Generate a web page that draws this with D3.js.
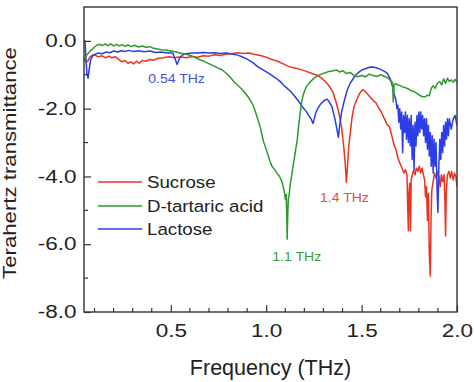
<!DOCTYPE html>
<html><head><meta charset="utf-8">
<script src="https://cdn.jsdelivr.net/npm/d3@7"></script>
<style>body{margin:0;background:#fff}svg{display:block}</style>
</head><body>
<svg id="c" width="474" height="382"></svg>
<script>
const xTicks = [0.5, 1.0, 1.5, 2.0];
const xMinorTicks = [0.1, 0.2, 0.3, 0.4, 0.6, 0.7, 0.8, 0.9, 1.1, 1.2, 1.3, 1.4, 1.6, 1.7, 1.8, 1.9];
const yTicks = [0, -2, -4, -6, -8];
const yMinorTicks = [-1, -3, -5, -7];
const seriesNames = ["Sucrose", "D-tartaric acid", "Lactose"];
const peakLabels = ["0.54 THz", "1.4 THz", "1.1 THz"];
const peakLabelFreq = [0.53, 1.41, 1.16];
const peakLabelVal = [-1.12, -4.62, -6.35];

const sucrose = [[0.045,-0.50],[0.055,-0.62],[0.065,-0.60],[0.075,-0.48],[0.09,-0.42],[0.103,-0.42],[0.12,-0.47],[0.14,-0.44],[0.16,-0.50],[0.175,-0.45],[0.19,-0.50],[0.21,-0.47],[0.23,-0.56],[0.245,-0.62],[0.26,-0.58],[0.275,-0.66],[0.29,-0.62],[0.305,-0.68],[0.32,-0.60],[0.335,-0.66],[0.35,-0.58],[0.37,-0.60],[0.39,-0.55],[0.41,-0.57],[0.43,-0.52],[0.46,-0.50],[0.49,-0.47],[0.52,-0.50],[0.55,-0.47],[0.58,-0.50],[0.61,-0.46],[0.64,-0.48],[0.67,-0.44],[0.70,-0.45],[0.73,-0.41],[0.76,-0.43],[0.79,-0.39],[0.82,-0.38],[0.85,-0.35],[0.88,-0.37],[0.91,-0.36],[0.94,-0.40],[0.97,-0.43],[1.00,-0.48],[1.03,-0.55],[1.06,-0.60],[1.09,-0.68],[1.12,-0.76],[1.15,-0.80],[1.18,-0.84],[1.21,-0.90],[1.24,-0.96],[1.27,-1.02],[1.29,-1.10],[1.31,-1.20],[1.33,-1.33],[1.35,-1.52],[1.365,-1.78],[1.38,-2.10],[1.395,-2.55],[1.405,-3.05],[1.414,-3.6],[1.420,-4.18],[1.426,-3.7],[1.433,-3.1],[1.441,-2.71],[1.45,-2.25],[1.46,-1.95],[1.477,-1.70],[1.49,-1.55],[1.504,-1.44],[1.515,-1.47],[1.53,-1.56],[1.545,-1.66],[1.56,-1.76],[1.575,-1.82],[1.59,-1.98],[1.605,-2.12],[1.62,-2.3],[1.635,-2.48],[1.645,-2.52],[1.655,-2.72],[1.665,-2.95],[1.672,-3.1],[1.68,-3.2],[1.69,-3.45],[1.70,-3.6],[1.708,-3.7],[1.715,-3.8],[1.722,-3.9],[1.73,-3.8],[1.738,-3.95],[1.742,-5.0],[1.745,-5.6],[1.748,-4.5],[1.752,-4.2],[1.756,-5.6],[1.760,-4.1],[1.766,-3.95],[1.772,-3.82],[1.78,-3.95],[1.787,-3.75],[1.795,-3.85],[1.802,-3.7],[1.81,-3.9],[1.817,-3.75],[1.824,-3.95],[1.83,-4.1],[1.835,-4.6],[1.84,-4.3],[1.845,-5.3],[1.85,-4.5],[1.855,-6.3],[1.860,-6.94],[1.864,-5.2],[1.868,-4.4],[1.875,-4.15],[1.882,-3.9],[1.89,-4.05],[1.897,-3.85],[1.905,-4.0],[1.912,-4.3],[1.918,-3.95],[1.925,-4.15],[1.932,-3.95],[1.937,-4.8],[1.940,-5.76],[1.944,-4.4],[1.95,-3.95],[1.958,-3.85],[1.965,-4.05],[1.972,-3.85],[1.98,-4.1],[1.987,-3.9],[1.994,-4.0],[2.0,-4.3]];

const tartaric = [[0.045,-0.56],[0.055,-0.45],[0.065,-0.38],[0.08,-0.28],[0.09,-0.24],[0.10,-0.18],[0.115,-0.12],[0.13,-0.10],[0.14,-0.14],[0.155,-0.09],[0.17,-0.14],[0.185,-0.09],[0.20,-0.15],[0.215,-0.10],[0.23,-0.15],[0.245,-0.11],[0.26,-0.16],[0.275,-0.12],[0.29,-0.17],[0.31,-0.13],[0.33,-0.18],[0.35,-0.15],[0.37,-0.19],[0.39,-0.17],[0.41,-0.22],[0.43,-0.24],[0.45,-0.26],[0.47,-0.27],[0.50,-0.30],[0.53,-0.33],[0.56,-0.37],[0.59,-0.41],[0.62,-0.47],[0.65,-0.55],[0.68,-0.62],[0.71,-0.70],[0.74,-0.78],[0.77,-0.86],[0.80,-1.0],[0.83,-1.2],[0.855,-1.33],[0.88,-1.47],[0.905,-1.65],[0.93,-1.88],[0.95,-2.2],[0.968,-2.53],[0.985,-2.95],[1.005,-3.29],[1.02,-3.55],[1.031,-3.71],[1.045,-3.80],[1.058,-3.91],[1.07,-4.0],[1.084,-4.18],[1.095,-4.44],[1.10,-4.68],[1.105,-4.53],[1.108,-5.2],[1.110,-5.85],[1.113,-5.1],[1.116,-4.68],[1.12,-4.55],[1.126,-4.24],[1.134,-3.95],[1.142,-3.65],[1.152,-3.3],[1.163,-2.91],[1.17,-2.5],[1.178,-2.12],[1.186,-1.8],[1.194,-1.59],[1.21,-1.35],[1.231,-1.21],[1.25,-1.1],[1.27,-1.03],[1.29,-0.98],[1.31,-0.94],[1.33,-0.90],[1.35,-0.88],[1.37,-0.86],[1.385,-0.92],[1.40,-0.88],[1.42,-0.96],[1.44,-0.93],[1.46,-1.02],[1.48,-1.06],[1.50,-1.02],[1.52,-1.06],[1.54,-0.98],[1.56,-1.02],[1.58,-1.05],[1.60,-1.0],[1.62,-1.05],[1.64,-1.1],[1.655,-1.2],[1.662,-1.22],[1.666,-1.8],[1.670,-1.3],[1.68,-1.26],[1.69,-1.3],[1.703,-1.32],[1.715,-1.36],[1.73,-1.38],[1.745,-1.42],[1.76,-1.47],[1.775,-1.5],[1.79,-1.55],[1.808,-1.62],[1.82,-1.65],[1.834,-1.65],[1.845,-1.6],[1.855,-1.62],[1.865,-1.4],[1.875,-1.32],[1.885,-1.4],[1.897,-1.25],[1.91,-1.2],[1.92,-1.3],[1.93,-1.12],[1.94,-1.25],[1.95,-1.1],[1.96,-1.2],[1.97,-1.15],[1.98,-1.22],[1.99,-1.14],[2.0,-1.22]];

const lactose = [[0.045,-0.05],[0.05,0.0],[0.055,-0.5],[0.06,-0.95],[0.066,-1.1],[0.072,-0.85],[0.08,-0.55],[0.09,-0.45],[0.10,-0.40],[0.12,-0.36],[0.14,-0.38],[0.16,-0.33],[0.18,-0.35],[0.20,-0.30],[0.22,-0.33],[0.24,-0.29],[0.26,-0.31],[0.28,-0.28],[0.30,-0.31],[0.33,-0.29],[0.36,-0.32],[0.39,-0.30],[0.42,-0.34],[0.45,-0.33],[0.48,-0.36],[0.51,-0.36],[0.52,-0.50],[0.533,-0.70],[0.545,-0.52],[0.56,-0.42],[0.58,-0.38],[0.61,-0.36],[0.64,-0.36],[0.67,-0.34],[0.70,-0.36],[0.73,-0.35],[0.76,-0.37],[0.79,-0.36],[0.82,-0.39],[0.85,-0.42],[0.87,-0.46],[0.90,-0.54],[0.93,-0.64],[0.96,-0.78],[0.99,-0.88],[1.02,-0.98],[1.05,-1.10],[1.07,-1.18],[1.09,-1.30],[1.11,-1.40],[1.13,-1.50],[1.15,-1.64],[1.17,-1.78],[1.19,-1.95],[1.21,-2.08],[1.225,-2.22],[1.235,-2.30],[1.246,-2.44],[1.252,-2.30],[1.26,-2.12],[1.27,-2.0],[1.283,-1.88],[1.30,-1.78],[1.31,-1.74],[1.32,-1.72],[1.33,-1.80],[1.345,-1.95],[1.36,-2.30],[1.372,-2.65],[1.378,-2.85],[1.385,-2.5],[1.395,-2.1],[1.41,-1.75],[1.425,-1.45],[1.44,-1.25],[1.46,-1.08],[1.48,-0.95],[1.50,-0.86],[1.52,-0.82],[1.54,-0.78],[1.56,-0.77],[1.58,-0.80],[1.60,-0.84],[1.62,-0.90],[1.635,-0.96],[1.65,-1.12],[1.66,-1.3],[1.67,-1.55],[1.68,-1.75],[1.685,-2.0],[1.69,-1.9],[1.695,-2.4],[1.70,-2.0],[1.705,-2.6],[1.71,-2.1],[1.715,-3.3],[1.72,-2.2],[1.725,-2.7],[1.73,-2.1],[1.735,-2.9],[1.74,-2.2],[1.745,-3.0],[1.75,-2.3],[1.755,-3.1],[1.76,-2.2],[1.765,-3.5],[1.77,-2.5],[1.775,-3.8],[1.78,-2.4],[1.785,-3.1],[1.79,-2.2],[1.795,-2.8],[1.80,-2.1],[1.805,-2.7],[1.81,-2.1],[1.815,-2.6],[1.82,-2.2],[1.825,-2.8],[1.83,-2.3],[1.835,-3.0],[1.84,-2.3],[1.845,-3.2],[1.85,-2.5],[1.855,-3.4],[1.86,-2.7],[1.865,-3.7],[1.87,-2.8],[1.875,-3.9],[1.88,-2.9],[1.885,-3.7],[1.89,-3.0],[1.895,-4.3],[1.90,-5.06],[1.905,-3.7],[1.91,-2.9],[1.915,-3.5],[1.92,-2.7],[1.925,-3.3],[1.93,-2.5],[1.935,-3.1],[1.94,-2.4],[1.945,-2.9],[1.95,-2.3],[1.955,-2.8],[1.96,-2.3],[1.97,-2.6],[1.98,-2.3],[1.99,-2.2],[2.0,-2.5]];

const colors = ["#ec3320", "#2c9a2c", "#2b3de6"];
const labelColors = ["#4355e0", "#ec4a3a", "#34a034"];

const svg = d3.select("#c");
const L = 84, R = 457, T = 7, B = 312;
const x = d3.scaleLinear().domain([0.045, 2.0]).range([L, R]);
const y = d3.scaleLinear().domain([-8, 1]).range([B, T]);
const FONT = "'Liberation Sans', Arial, sans-serif";
const axisColor = "#333";

svg.append("defs").append("clipPath").attr("id", "clip")
  .append("rect").attr("x", L).attr("y", T).attr("width", R - L).attr("height", B - T);

const line = d3.line().x(d => x(d[0])).y(d => y(d[1]));
const gLines = svg.append("g").attr("clip-path", "url(#clip)");
const drawOrder = [[sucrose, 0], [lactose, 2], [tartaric, 1]];
drawOrder.forEach(([data, i]) => {
  gLines.append("path").datum(data).attr("d", line)
    .attr("fill", "none").attr("stroke", colors[i]).attr("stroke-width", 1.5)
    .attr("stroke-linejoin", "round");
});

const fmt = d => d.toFixed(1);
const xAxis = svg.append("g").attr("transform", `translate(0,${B})`)
  .call(d3.axisBottom(x).tickValues(xTicks).tickFormat(fmt).tickSizeInner(-7).tickSizeOuter(0).tickPadding(12));
const yAxis = svg.append("g").attr("transform", `translate(${L},0)`)
  .call(d3.axisLeft(y).tickValues(yTicks).tickFormat(fmt).tickSizeInner(-7).tickSizeOuter(0).tickPadding(6));
[xAxis, yAxis].forEach(g => {
  g.select(".domain").remove();
  g.selectAll(".tick line").attr("stroke", axisColor).attr("stroke-width", 1.2);
  g.selectAll(".tick text").attr("font-family", FONT).attr("font-size", 18)
    .attr("fill", "#222").attr("transform", "scale(1.25,1)");
});
xAxis.selectAll(".tick text").attr("dy", "0.72em");

svg.append("g").selectAll("line").data(xMinorTicks).join("line")
  .attr("x1", d => x(d)).attr("x2", d => x(d)).attr("y1", B).attr("y2", B - 4)
  .attr("stroke", axisColor).attr("stroke-width", 1.2);
svg.append("g").selectAll("line").data(yMinorTicks).join("line")
  .attr("x1", L).attr("x2", L + 4).attr("y1", d => y(d)).attr("y2", d => y(d))
  .attr("stroke", axisColor).attr("stroke-width", 1.2);

svg.append("rect").attr("x", L).attr("y", T).attr("width", R - L).attr("height", B - T)
  .attr("fill", "none").attr("stroke", axisColor).attr("stroke-width", 1.4);

svg.append("text").attr("x", (L + R) / 2).attr("y", 375).attr("text-anchor", "middle")
  .attr("font-family", FONT).attr("font-size", 21.5).attr("fill", "#222").text("Frequency (THz)");
svg.append("text").attr("transform", "translate(16,163) rotate(-90) scale(1.2,1)")
  .attr("text-anchor", "middle").attr("font-family", FONT).attr("font-size", 18.5).attr("fill", "#222")
  .text("Terahertz transmittance");

const legY = [182, 206, 229];
const leg = svg.append("g");
seriesNames.forEach((name, i) => {
  leg.append("line").attr("x1", 98).attr("x2", 142).attr("y1", legY[i]).attr("y2", legY[i])
    .attr("stroke", colors[i]).attr("stroke-width", 1.5);
  leg.append("text").attr("transform", `translate(147,${legY[i] + 6}) scale(1.1,1)`)
    .attr("font-family", FONT).attr("font-size", 17).attr("fill", "#222").text(name);
});

peakLabels.forEach((t, i) => {
  svg.append("text")
    .attr("transform", `translate(${x(peakLabelFreq[i])},${y(peakLabelVal[i]) + 4.5}) scale(1.08,1)`)
    .attr("text-anchor", "middle").attr("font-family", FONT).attr("font-size", 13)
    .attr("fill", labelColors[i]).text(t);
});
</script>
</body></html>
